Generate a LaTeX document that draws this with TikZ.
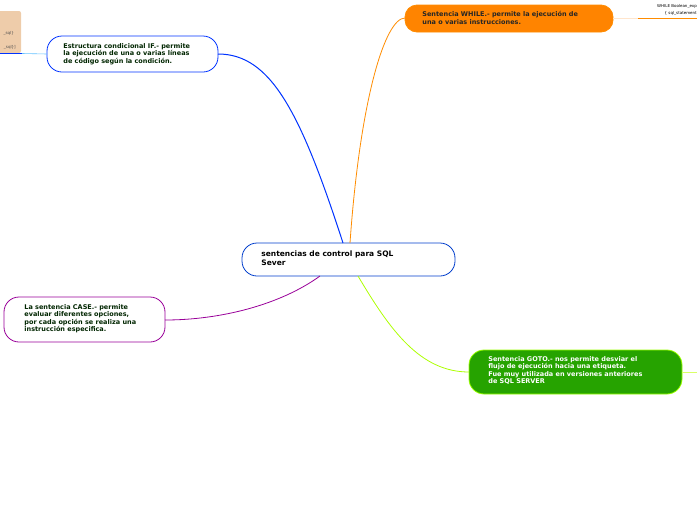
\documentclass[tikz,border=0pt]{standalone}
\usepackage{fontspec}
\setmainfont{DejaVu Sans}
\begin{document}
\begin{tikzpicture}[x=1pt,y=-1pt,
  box/.style={rounded corners=15pt,line width=0.8pt,font=\fontsize{6.5}{7.5}\selectfont\bfseries,align=left,text=black!85!green,anchor=north west,inner sep=0pt},
  small/.style={font=\fontsize{4}{5}\selectfont,text=black!70,inner sep=0pt}]
\useasboundingbox (0,0) rectangle (697,520);
% boxes
\draw[box,draw=blue!70!cyan!80!black,fill=white] (242,243) rectangle (455,276);
\node[box,font=\fontsize{7.5}{9}\selectfont\bfseries,text=black] (c) at (261,250) {sentencias de control para SQL\\Sever};
\coordinate (cc) at (242,243);
\draw[box,draw=blue!80!cyan,fill=white] (47,36) rectangle (218,72);
\node[box] (if) at (63,43) {Estructura condicional IF.- permite\\la ejecución de una o varias líneas\\de código según la condición.};
\draw[box,rounded corners=12pt,draw=orange!90!yellow,fill=orange!85!yellow!90!red] (405,5) rectangle (613,32);
\node[box,text=black!85] (wh) at (422,11) {Sentencia WHILE.- permite la ejecución de\\una o varias instrucciones.};
\draw[box,draw=violet!80!magenta,fill=white] (4,297) rectangle (165,342);
\node[box] (cs) at (24,304) {La sentencia CASE.- permite\\evaluar diferentes opciones,\\por cada opción se realiza una\\instrucción especifica.};
\draw[box,draw=lime!80!green,fill=green!55!black!80!lime] (469,350) rectangle (682,394);
\node[box,text=white] (gt) at (488,356) {Sentencia GOTO.- nos permite desviar el\\flujo de ejecución hacia una etiqueta.\\Fue muy utilizada en versiones anteriores\\de SQL SERVER};
% tan box
\fill[orange!35!brown!40!white,rounded corners=2pt] (-5,11) rectangle (21,53);
\node[small,anchor=east] (t1) at (14,33) {\_sql\}};
\node[small,anchor=east] (t2) at (16,47) {\_sql\}]};
\draw[blue!80!cyan,line width=1pt] (0,53.5) -- (22,53.5);
\draw[blue!40!cyan!60,line width=0.6pt] (22,53.5) -- (47,54);
% top right
\node[small,anchor=east,text=black] (w1) at (697,6) {WHILE Boolean\_exp};
\node[small,anchor=east,text=black] (w2) at (697,13) {\{ sql\_statement};
\draw[orange!20,line width=1pt] (613,18) -- (638,18);
\draw[orange!90!yellow,line width=1pt] (638,18.5) -- (697,18.5);
\draw[lime!60,line width=0.6pt] (682,372) -- (697,372);
% connectors
\draw[blue!80!cyan,line width=1pt] (343,243) .. controls (300,110) and (270,54) .. (218,54);
\draw[orange!90!yellow,line width=0.8pt] (350,243) .. controls (360,100) and (385,18) .. (405,18);
\draw[violet!80!magenta,line width=0.8pt] (320,276) .. controls (280,305) and (220,320) .. (165,320);
\draw[lime!90!green,line width=0.8pt] (358,276) .. controls (390,330) and (420,372) .. (469,372);
\end{tikzpicture}
\end{document}
